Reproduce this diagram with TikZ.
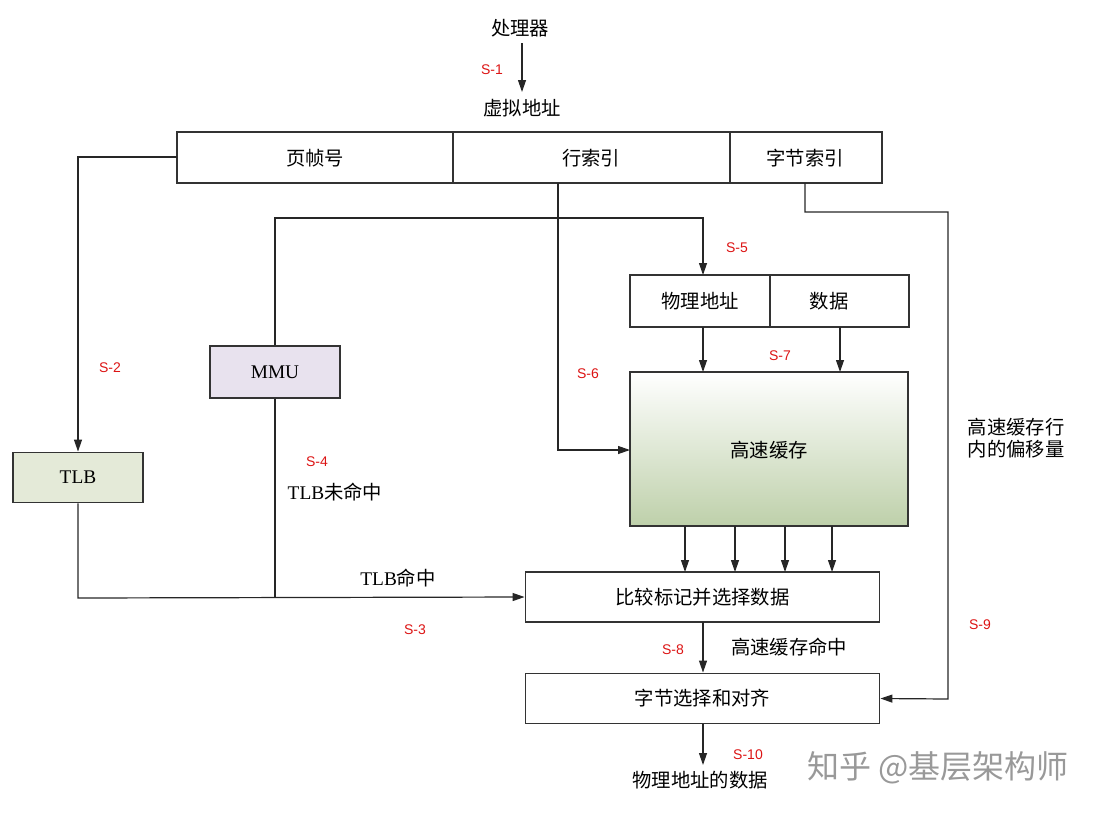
\documentclass[tikz,border=0pt]{standalone}
\usepackage{fontspec}
\setmainfont{Liberation Serif}
\newfontfamily\cjk{Noto Sans CJK SC}
\newfontfamily\lab{Liberation Sans}
\usetikzlibrary{arrows.meta}
\definecolor{redlab}{RGB}{220,20,20}
\definecolor{tlbfill}{RGB}{228,234,216}
\definecolor{mmufill}{RGB}{232,226,238}
\definecolor{cachebot}{RGB}{190,208,170}
\begin{document}
\begin{tikzpicture}[x=0.75pt,y=-0.75pt,
  box/.style={draw=black!80,line width=0.9pt},
  ln/.style={draw=black!85,line width=0.9pt},
  arr/.style={ln,-{Triangle[length=9pt,width=6pt]}},
  zh/.style={font=\cjk\fontsize{14.5}{17}\selectfont},
  sl/.style={font=\lab\fontsize{10.5}{12}\selectfont,text=redlab},
  en/.style={font=\fontsize{14.5}{17}\selectfont}]
\useasboundingbox (0,0) rectangle (1102,814);
% top
\node[zh] (proc) at (520,28) {处理器};
\coordinate (p1) at (522,43);
\coordinate (p2) at (522,92);
\draw[arr] (p1) -- (p2);
\node[sl] (s1) at (492,70) {S-1};
\node[zh] (va) at (522,108) {虚拟地址};
% virtual address bar
\draw[box] (177,132) rectangle (882,183);
\draw[box] (453,132) -- (453,183) (730,132) -- (730,183);
\node[zh] (pfn) at (315,158) {页帧号};
\node[zh] (row) at (591,158) {行索引};
\node[zh] (byte) at (805,158) {字节索引};
% TLB and MMU
\node[box,fill=tlbfill,minimum width=97.5pt,minimum height=38pt,en] (tlb) at (78,477.5) {TLB};
\node[box,fill=mmufill,minimum width=97.5pt,minimum height=39pt,en] (mmu) at (275,372) {MMU};
\draw[arr] (177,157) -- (78,157) -- (tlb.north);
\node[sl] (s2) at (110,368) {S-2};
% phys/data
\draw[box] (630,275) rectangle (909,327);
\draw[box] (770,275) -- (770,327);
\node[zh] (pa) at (700,301) {物理地址};
\node[zh] (dat) at (829,301) {数据};
\draw[arr] (mmu.north) -- (275,218) -- (703,218) -- (703,275);
\node[sl] (s5) at (737,248) {S-5};
% cache
\shade[top color=white,bottom color=cachebot] (630,372) rectangle (908,526);
\draw[box] (630,372) rectangle (908,526);
\node[zh] (cache) at (769,450) {高速缓存};
\draw[arr] (703,327) -- (703,372);
\draw[arr] (840,327) -- (840,372);
\node[sl] (s7) at (780,356) {S-7};
\draw[arr] (558,183) -- (558,450) -- (630,450);
\node[sl] (s6) at (588,374) {S-6};
% compare
\node[box,minimum width=266pt,minimum height=37.5pt,zh] (cmp) at (702.5,597) {比较标记并选择数据};
\foreach \x in {685,735,785,832} \draw[arr] (\x,526) -- (\x,572);
\draw[ln] (mmu.south) -- (275,598);
\node[sl] (s4) at (317,462) {S-4};
\node[en,anchor=west] (miss) at (283,492) {TLB\cjk 未命中};
\draw[arr] (tlb.south) -- (78,598) -- (cmp.west);
\node[en] (hit) at (398,578) {TLB\cjk 命中};
\node[sl] (s3) at (415,630) {S-3};
% byte select
\node[box,minimum width=266pt,minimum height=38pt,zh] (sel) at (702.5,698.5) {字节选择和对齐};
\draw[arr] (703,622) -- (sel.north -| 703,0);
\node[sl] (s8) at (673,650) {S-8};
\node[zh] (chit) at (789,647) {高速缓存命中};
\draw[arr] (805,183) -- (805,212) -- (948,212) -- (948,699) -- (sel.east);
\node[sl] (s9) at (980,625) {S-9};
\node[zh,align=left] (off) at (1016,438) {高速缓存行\\内的偏移量};
\coordinate (outp) at (703,765);
\draw[arr] (sel.south -| 703,0) -- (outp);
\node[sl] (s10) at (748,755) {S-10};
\node[zh] (out) at (700,780) {物理地址的数据};
\node[font=\cjk\fontsize{24}{27}\selectfont,text=black!40] (wm) at (938,768) {知乎 @基层架构师};
\end{tikzpicture}
\end{document}
